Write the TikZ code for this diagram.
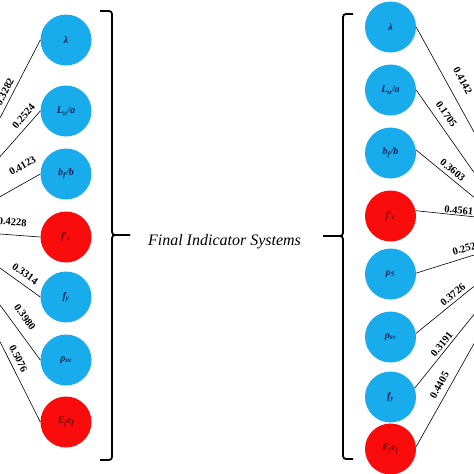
\documentclass[tikz,border=0pt]{standalone}
\usepackage{fontspec}
\setmainfont{Liberation Serif}
\definecolor{cblue}{RGB}{24,172,236}
\definecolor{cred}{RGB}{250,12,12}
\definecolor{tblue}{RGB}{20,30,90}
\definecolor{tred}{RGB}{110,0,0}
\begin{document}
\begin{tikzpicture}[x=1pt,y=-1pt,
  bnode/.style={circle, fill=cblue, minimum size=51pt, inner sep=0pt,
    font=\bfseries\itshape\fontsize{10}{12}\selectfont, text=tblue},
  rnode/.style={bnode, fill=cred, text=tred},
  link/.style={draw=black, line width=0.6pt},
  wt/.style={sloped, inner sep=0pt, font=\bfseries\fontsize{10.5}{12}\selectfont},
  brk/.style={line width=1.8pt, rounded corners=3pt}]
\useasboundingbox (0,0) rectangle (474,474);
\clip (0,0) rectangle (474,474);

% left column
\node[bnode] (l1) at (66,40) {λ};
\node[bnode] (l2) at (66,111) {L\textsubscript{u}/a};
\node[bnode] (l3) at (66,174) {b\textsubscript{f}/b};
\node[rnode] (l4) at (66,237) {f′\textsubscript{c}};
\node[bnode] (l5) at (66,297) {f\textsubscript{y}};
\node[bnode] (l6) at (66,360) {ρ\textsubscript{sv}};
\node[rnode] (l7) at (66,422) {E\textsubscript{f}ε\textsubscript{f}};

\coordinate (a1) at (0,118);
\coordinate (a2) at (0,156.7);
\coordinate (a3) at (0,196.7);
\coordinate (a4) at (0,234);
\coordinate (a5) at (0,268);
\coordinate (a6) at (0,305);
\coordinate (a7) at (0,341.7);

\draw[link] (a1) -- node[wt, pos=0.29, above=4pt] {0.3282} (l1.west);
\draw[link] (a2) -- node[wt, pos=0.75, above=5pt] {0.2524} (l2.west);
\draw[link] (a3) -- node[wt, pos=0.75, above=12pt] {0.4123} (l3.west);
\draw[link] (a4) -- node[wt, pos=0.28, above=9pt] {0.4228} (l4.west);
\draw[link] (a5) -- node[wt, pos=0.48, above=6pt] {0.3314} (l5.west);
\draw[link] (a6) -- node[wt, pos=0.36, above=9pt] {0.3980} (l6.west);
\draw[link] (a7) -- node[wt, pos=0.26, above=5pt] {0.5076} (l7.west);

% right column
\node[bnode] (r1) at (390.5,27) {λ};
\node[bnode] (r2) at (390.5,90) {L\textsubscript{u}/a};
\node[bnode] (r3) at (390.5,153) {b\textsubscript{f}/b};
\node[rnode] (r4) at (390.5,216) {f′\textsubscript{c}};
\node[bnode] (r5) at (390.5,274) {ρ\textsubscript{S}};
\node[bnode] (r6) at (390.5,337) {ρ\textsubscript{sv}};
\node[bnode] (r7) at (390.5,397) {f\textsubscript{y}};
\node[rnode] (r8) at (390.5,449) {E\textsubscript{f}ε\textsubscript{f}};

\coordinate (b1) at (474,132);
\coordinate (b2) at (474,172.5);
\coordinate (b3) at (474,197.3);
\coordinate (b4) at (474,216.8);
\coordinate (b5) at (474,255);
\coordinate (b6) at (474,286.3);
\coordinate (b7) at (474,314.4);
\coordinate (b8) at (474,343.6);

\draw[link] (r1.east) -- node[wt, pos=0.58, above=11pt] {0.4142} (b1);
\draw[link] (r2.east) -- node[wt, pos=0.37, above=7pt] {0.1705} (b2);
\draw[link] (r3.7) -- node[wt, pos=0.55, above=3.6pt] {0.3603} (b3);
\draw[link] (r4.12) -- node[wt, pos=0.73, above=1pt] {0.4561} (b4);
\draw[link] (r5.2) -- node[wt, pos=0.92, above=5pt] {0.2529} (b5);
\draw[link] (r6.8) -- node[wt, pos=0.71, above=3pt] {0.3726} (b6);
\draw[link] (r7.20) -- node[wt, pos=0.54, above=2.5pt] {0.3191} (b7);
\draw[link] (r8.5) -- node[wt, pos=0.55, above=6pt] {0.4405} (b8);

% braces
\draw[brk] (100,11) -| (112,235) -- (130,235);
\draw[brk] (100,460) -| (112,235) -- (130,235);
\draw[brk] (353,14) -| (343,236) -- (323,236);
\draw[brk] (353,459) -| (343,236) -- (323,236);

\node[font=\itshape\fontsize{16}{18}\selectfont] (title) at (224.5,242) {Final Indicator Systems};
\end{tikzpicture}
\end{document}
